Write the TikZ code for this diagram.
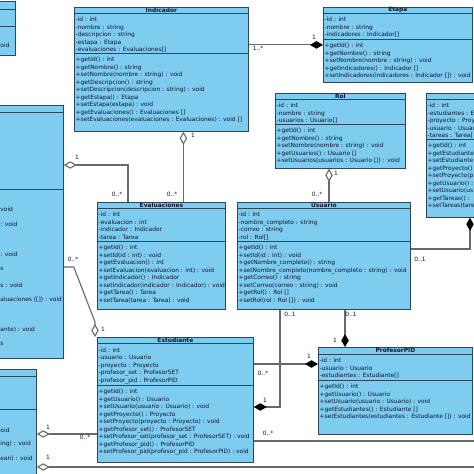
\documentclass[tikz,border=0pt]{standalone}
\usepackage{fontspec}
\setmainfont{DejaVu Sans}
\usetikzlibrary{positioning,calc,arrows.meta}
\definecolor{umlfill}{RGB}{126,205,240}
\definecolor{umledge}{RGB}{45,70,90}
\definecolor{umlink}{RGB}{15,20,45}
\definecolor{umlline}{RGB}{105,105,105}
\tikzset{
  cls/.style={rectangle, draw=umledge, fill=umlfill, line width=0.8pt, anchor=north west, inner sep=0},
  sepline/.style={draw=umledge, line width=0.6pt},
  ttl/.style={font=\fontsize{5.9}{6}\selectfont\bfseries, text=umlink, inner sep=0},
  txt/.style={font=\fontsize{5.9}{7.5}\selectfont, text=umlink, align=left, inner sep=0, anchor=north west},
  frag/.style={font=\fontsize{5.9}{7.5}\selectfont, text=umlink, inner sep=0, anchor=west},
  mult/.style={font=\fontsize{5.9}{6}\selectfont, text=umlink, inner sep=0},
  assoc/.style={draw=umlline, line width=1.1pt},
  agg/.style={assoc, -{Diamond[open, length=13pt, width=7.5pt, color=umlline, fill=white]}},
  comp/.style={assoc, -{Diamond[length=13pt, width=7.5pt, color=black]}}
}
% name, north west, width, height, header, separator, title, attributes, methods
\newcommand{\umlclass}[9]{%
  \node[cls, minimum width=#3, minimum height=#4] (#1) at #2 {};
  \draw[sepline] ($(#1.north west)+(0,#5)$) -- ($(#1.north east)+(0,#5)$);
  \draw[sepline] ($(#1.north west)+(0,#6)$) -- ($(#1.north east)+(0,#6)$);
  \node[ttl] (#1-t) at ($(#1.north)+(0,#5/2)$) {#7};
  \node[txt] (#1-a) at ($(#1.north west)+(1.5,#5+4)$) {#8};
  \node[txt] (#1-m) at ($(#1.north west)+(1.5,#6+4)$) {#9};
}
\begin{document}
\begin{tikzpicture}[x=1pt,y=-1pt]
	\useasboundingbox (0,0) rectangle (474,474);
	\clip (0,0) rectangle (474,474);
	\fill[white] (0,0) rectangle (474,474);
	
	% clases cortadas a la izquierda
	\umlclass{clasea}{(-100,1)}{115pt}{54pt}{8.3}{25.7}{}{}{}
	\node[frag] (clasea-f1) at (0.3,45) {oid};
	\umlclass{tarea}{(-150,105)}{213pt}{253pt}{7}{84}{}{}{}
	\node[frag] (tarea-f1) at (0.3,209) {void};
	\node[frag] (tarea-f2) at (0.3,224) {: void};
	\node[frag] (tarea-f3) at (0.3,254) {: void};
	\node[frag] (tarea-f4) at (0.3,269) {s};
	\node[frag] (tarea-f5) at (0.3,285) {s : void};
	\node[frag] (tarea-f6) at (0.3,300) {aluaciones ([]) : void};
	\node[frag] (tarea-f7) at (0.3,330) {ante) : void};
	\node[frag] (tarea-f8) at (0.3,344) {s};
	\umlclass{claseb}{(-100,369)}{136pt}{120pt}{7}{40}{}{}{}
	\node[frag] (claseb-f1) at (0.3,430) {oid};
	\node[frag] (claseb-f2) at (0.3,444) {ing) : void};
	\node[frag] (claseb-f3) at (0.3,459) {ean) : void};
	
	% clases
	\umlclass{indicador}{(74,7)}{174pt}{124pt}{6}{46}{Indicador}
	  {-id : int\\-nombre : string\\-descripcion : string\\-estapa : Etapa\\-evaluaciones : Evaluaciones[]}
	  {+getId() : int\\+getNombre() : string\\+setNombre(nombre : string) : void\\+getDescripcion() : string\\+setDescripcion(descripcion : string) : void\\+getEstapa() : Etapa\\+setEstapa(estapa) : void\\+getEvaluaciones() : Evaluaciones []\\+setEvaluaciones(evaluaciones : Evaluaciones) : void []}
	\umlclass{etapa}{(323,7)}{149pt}{75pt}{6}{32}{Etapa}
	  {-id : int\\-nombre : string\\-indicadores : Indicador[]}
	  {+getId() : int\\+getNombre() : string\\+setNombre(nombre : string) : void\\+getIndicadores() : Indicador []\\+setIndicadores(indicadores : Indicador []) : void}
	\umlclass{rol}{(275,93)}{130pt}{75pt}{6}{31}{Rol}
	  {-id : int\\-nombre : string\\-usuarios : Usuario[]}
	  {+getId() : int\\+getNombre() : string\\+setNombre(nombre : string) : void\\+getUsuarios() : Usuario []\\+setUsuarios(usuarios : Usuario []) : void}
	\umlclass{profset}{(426,93)}{100pt}{124pt}{6}{46}{}
	  {-id : int\\-estudiantes : E\\-proyecto : Proy\\-usuario : Usuar\\-tareas : Tarea[}
	  {+getId() : int\\+getEstudiante\\+setEstudiante\\+getProyecto()\\+setProyecto(p\\+getUsuario() :\\+setUsuario(us\\+getTareas() :\\+setTareas(tare}
	\umlclass{evaluaciones}{(97,202)}{128pt}{107pt}{6}{39}{Evaluaciones}
	  {-id : int\\-evaluacion : int\\-indicador : Indicador\\-tarea : Tarea}
	  {+getId() : int\\+setId(id : int) : void\\+getEvaluacion() : int\\+setEvaluacion(evaluacion : int) : void\\+getIndicador() : Indicador\\+setIndicador(indicador : Indicador) : void\\+getTarea() : Tarea\\+setTarea(tarea : Tarea) : void}
	\umlclass{usuario}{(237,202)}{173pt}{107pt}{6}{39}{Usuario}
	  {-id : int\\-nombre\_completo : string\\-correo : string\\-rol : Rol[]}
	  {+getId() : int\\+setId(id : int) : void\\+getNombre\_completo() : string\\+setNombre\_completo(nombre\_completo : string) : void\\+getCorreo() : string\\+setCorreo(correo : string) : void\\+getRol() : Rol []\\+setRol(rol : Rol []) : void}
	\umlclass{estudiante}{(97,337)}{156pt}{125pt}{6.5}{48}{Estudiante}
	  {-id : int\\-usuario : Usuario\\-proyecto : Proyecto\\-profesor\_set : ProfesorSET\\-profesor\_pid : ProfesorPID}
	  {+getId() : int\\+getUsuario() : Usuario\\+setUsuario(usuario : Usuario) : void\\+getProyecto() : Proyecto\\+setProyecto(proyecto : Proyecto) : void\\+getProfesor\_set() : ProfesorSET\\+setProfesor\_set(profesor\_set : ProfesorSET) : void\\+getProfesor\_pid() : ProfesorPID\\+setProfesor\_pid(profesor\_pid : ProfesorPID) : void}
	\umlclass{profpid}{(318,347)}{154pt}{87pt}{7}{33}{ProfesorPID}
	  {-id : int\\-usuario : Usuario\\-estudiantes : Estudiante[]}
	  {+getId() : int\\+getUsuario() : Usuario\\+setUsuario(usuario : Usuario) : void\\+getEstudiantes() : Estudiante []\\+setEstudiantes(estudiantes : Estudiante []) : void}
	
	% relaciones
	\coordinate (fuera1) at (490,467);
	\coordinate (fuera2) at (490,441);
	\draw[comp] (indicador.east |- etapa.west) -- (etapa.west);
	\draw[agg] ($(evaluaciones.north)+(22,0)$) -- ($(indicador.south)+(22,0)$);
	\draw[agg] ($(evaluaciones.north west)+(31,0)$) |- ($(tarea.north east)+(0,60)$);
	\draw[agg] ($(tarea.north east)+(0,162)$) -- ++(10,0) -- ($(estudiante.north west)+(-2,-15)$) -- ($(estudiante.north west)+(-2,0)$);
	\draw[agg] ($(usuario.north west)+(92,0)$) -- ($(rol.south west)+(54,0)$);
	\draw[comp] ($(usuario.north east)+(0,47)$) -| ($(profset.south west)+(44,0)$);
	\draw[comp] ($(usuario.south west)+(43,0)$) |- ($(estudiante.north east)+(0,70)$);
	\draw[comp] ($(usuario.south west)+(108,0)$) -- ($(profpid.north west)+(27,0)$);
	\draw[comp] ($(estudiante.north east)+(0,27)$) -- ($(profpid.north west)+(0,17)$);
	\draw[agg] ($(estudiante.north west)+(0,97)$) -- ($(claseb.north east)+(0,65)$);
	\draw[agg] (fuera1) -- ($(claseb.north east)+(0,98)$);
	\draw[assoc] ($(estudiante.north east)+(0,104)$) -- (fuera2);
	
	% multiplicidades
	\node[mult] (m1) at (258,48) {1..*};
	\node[mult] (m2) at (314,37) {1};
	\node[mult] (m3) at (193,135) {1};
	\node[mult] (m4) at (172,194) {0..*};
	\node[mult] (m5) at (77,157) {1};
	\node[mult] (m6) at (117,194) {0..*};
	\node[mult] (m7) at (73,259) {0..*};
	\node[mult] (m8) at (103,329) {1};
	\node[mult] (m9) at (336,173) {1};
	\node[mult] (m10) at (317,194) {0..*};
	\node[mult] (m11) at (420,259) {0..1};
	\node[mult] (m12) at (290,314) {0..1};
	\node[mult] (m13) at (351,314) {0..1};
	\node[mult] (m14) at (265,400) {1};
	\node[mult] (m15) at (335,340) {1};
	\node[mult] (m16) at (309,356) {1};
	\node[mult] (m17) at (263,373) {0..*};
	\node[mult] (m18) at (268,433) {0..*};
	\node[mult] (m19) at (48,427) {1};
	\node[mult] (m20) at (85,437) {0..*};
	\node[mult] (m21) at (48,457) {1};
\end{tikzpicture}
\end{document}
